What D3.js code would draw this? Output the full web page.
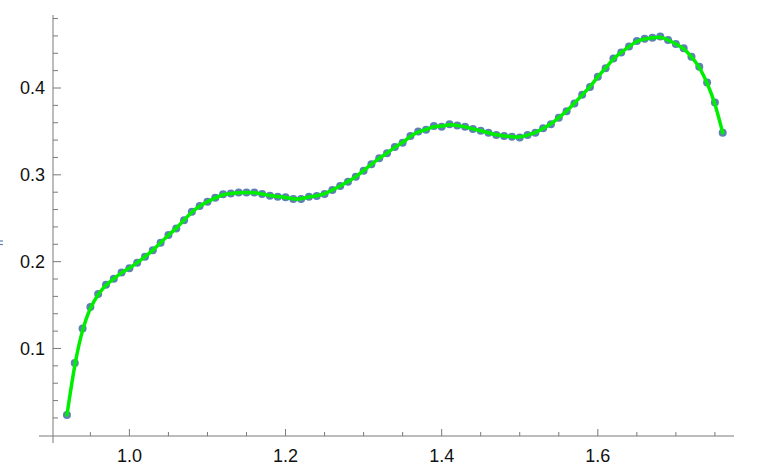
<!DOCTYPE html>
<html>
<head>
<meta charset="utf-8">
<script src="https://cdn.jsdelivr.net/npm/d3@7"></script>
<style>
  html, body { margin: 0; padding: 0; background: #fff; }
  svg { display: block; }
</style>
</head>
<body>
<svg id="chart" width="780" height="476"></svg>
<script>
// ---- data ----
const xStart = 0.92, xStep = 0.01;
const yValues = [
  0.0233, 0.0834, 0.1230, 0.1478, 0.1626, 0.1735, 0.1804, 0.1874, 0.1923, 0.1987,
  0.2057, 0.2131, 0.2218, 0.2306, 0.2383, 0.2478, 0.2575, 0.2641, 0.2691, 0.2735,
  0.2775, 0.2785, 0.2795, 0.2795, 0.2795, 0.2780, 0.2760, 0.2748, 0.2741, 0.2721,
  0.2721, 0.2748, 0.2755, 0.2780, 0.2825, 0.2871, 0.2921, 0.2978, 0.3047, 0.3122,
  0.3191, 0.3248, 0.3320, 0.3368, 0.3448, 0.3498, 0.3518, 0.3563, 0.3555, 0.3583,
  0.3568, 0.3555, 0.3528, 0.3508, 0.3485, 0.3458, 0.3448, 0.3438, 0.3431, 0.3458,
  0.3485, 0.3536, 0.3583, 0.3658, 0.3733, 0.3822, 0.3922, 0.4011, 0.4131, 0.4228,
  0.4341, 0.4410, 0.4477, 0.4542, 0.4566, 0.4579, 0.4592, 0.4554, 0.4507, 0.4458,
  0.4360, 0.4246, 0.4062, 0.3834, 0.3485
];
const xValues = yValues.map((_, i) => +(xStart + i * xStep).toFixed(2));
const xTickLabels = [1.0, 1.2, 1.4, 1.6];
const yTickLabels = [0.1, 0.2, 0.3, 0.4];
const xMinorTicks = d3.range(0.95, 1.76, 0.05).map(v => +v.toFixed(2)).filter(v => !xTickLabels.some(t => Math.abs(t - v) < 1e-6));
const yMinorTicks = d3.range(0.02, 0.49, 0.02).map(v => +v.toFixed(2)).filter(v => !yTickLabels.some(t => Math.abs(t - v) < 1e-6));

// ---- scales ----
const x = d3.scaleLinear().domain([1.0, 1.6]).range([129.4, 597.8]);
const y = d3.scaleLinear().domain([0, 0.4]).range([435.3, 88.0]);

const svg = d3.select("#chart");
const axisColor = "#7a7a7a";
const axisX0 = 53, axisY0 = 436;

// axes lines
svg.append("line").attr("x1", 39).attr("x2", 734).attr("y1", axisY0).attr("y2", axisY0)
  .attr("stroke", axisColor).attr("stroke-width", 1);
svg.append("line").attr("x1", axisX0).attr("x2", axisX0).attr("y1", 15).attr("y2", 443)
  .attr("stroke", axisColor).attr("stroke-width", 1);

// x ticks
svg.selectAll(".xmaj").data(xTickLabels).enter().append("line")
  .attr("x1", d => x(d)).attr("x2", d => x(d)).attr("y1", axisY0).attr("y2", axisY0 - 7)
  .attr("stroke", axisColor);
svg.selectAll(".xmin").data(xMinorTicks).enter().append("line")
  .attr("x1", d => x(d)).attr("x2", d => x(d)).attr("y1", axisY0).attr("y2", axisY0 - 4)
  .attr("stroke", axisColor);
svg.selectAll(".xlab").data(xTickLabels).enter().append("text")
  .attr("x", d => x(d)).attr("y", 462).attr("text-anchor", "middle")
  .attr("font-family", "'Liberation Sans', Arial, sans-serif").attr("font-size", 18)
  .attr("fill", "#111").text(d => d.toFixed(1));

// y ticks
svg.selectAll(".ymaj").data(yTickLabels).enter().append("line")
  .attr("x1", axisX0).attr("x2", axisX0 + 8).attr("y1", d => y(d)).attr("y2", d => y(d))
  .attr("stroke", axisColor);
svg.selectAll(".ymin").data(yMinorTicks).enter().append("line")
  .attr("x1", axisX0).attr("x2", axisX0 + 5).attr("y1", d => y(d)).attr("y2", d => y(d))
  .attr("stroke", axisColor);
svg.selectAll(".ylab").data(yTickLabels).enter().append("text")
  .attr("x", 45).attr("y", d => y(d)).attr("dy", "0.35em").attr("text-anchor", "end")
  .attr("font-family", "'Liberation Sans', Arial, sans-serif").attr("font-size", 18)
  .attr("fill", "#111").text(d => d.toFixed(1));

// small clipped label artifact at left edge
svg.append("line").attr("x1", 0).attr("x2", 3).attr("y1", 241).attr("y2", 241).attr("stroke", "#5E81B5").attr("stroke-width", 1.2);
svg.append("line").attr("x1", 0).attr("x2", 3).attr("y1", 244.5).attr("y2", 244.5).attr("stroke", "#5E81B5").attr("stroke-width", 1.2);

const pts = xValues.map((xv, i) => [xv, yValues[i]]);

// points
svg.selectAll(".pt").data(pts).enter().append("circle")
  .attr("cx", d => x(d[0])).attr("cy", d => y(d[1])).attr("r", 4)
  .attr("fill", "#5E81B5");

// smooth fit line
const line = d3.line().x(d => x(d[0])).y(d => y(d[1])).curve(d3.curveBasis);
svg.append("path").datum(pts).attr("d", line)
  .attr("fill", "none").attr("stroke", "#00EE00").attr("stroke-width", 3.5)
  .attr("stroke-linecap", "round");
</script>
</body>
</html>
